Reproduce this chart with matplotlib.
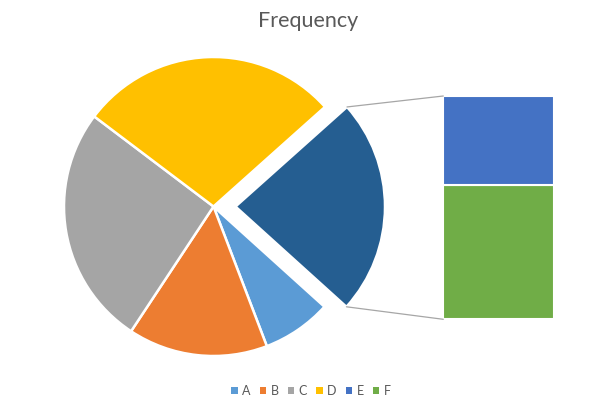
import matplotlib

matplotlib.use("Agg")
import matplotlib.pyplot as plt
from matplotlib.patches import ConnectionPatch, Patch
import numpy as np

# pie part: A-D individually, E+F pooled into "Other" and split out in the bar
pie_labels = ["A", "B", "C", "D"]
pie_values = [7.5, 15.1, 26.0, 28.1]
bar_labels = ["E", "F"]
bar_values = [9.3, 14.0]
title = "Frequency"

colors = {
  "A": "#5B9BD5",
  "B": "#ED7D31",
  "C": "#A5A5A5",
  "D": "#FFC000",
  "E": "#4472C4",
  "F": "#70AD47",
}
other_color = "#255E91"
text_color = "#595959"

W, H = 589, 404
plt.rcParams["font.family"] = ["Lato", "DejaVu Sans"]

fig = plt.figure(figsize=(W / 100, H / 100), dpi=100)
ax = fig.add_axes([0, 0, 1, 1])

values = pie_values + [sum(bar_values)]
wedge_colors = [colors[k] for k in pie_labels] + [other_color]
explode = [0, 0, 0, 0, 22]
center = (213.5, H - 206.5)
radius = 149.5

wedges, _ = ax.pie(
  values,
  colors=wedge_colors,
  explode=explode,
  center=center,
  radius=radius,
  startangle=-42.1,
  counterclock=False,
  wedgeprops=dict(edgecolor="white", linewidth=1.8),
)
ax.set_xlim(0, W)
ax.set_ylim(0, H)
ax.set_aspect("equal")
ax.axis("off")

# bar of the split-out slice
bar_box = [443.3 / W, (H - 319.3) / H, 110.4 / W, 223.3 / H]
bax = fig.add_axes(bar_box)
bottom = 0.0
for lab, val in zip(bar_labels[::-1], bar_values[::-1]):
  bax.bar(0, val, bottom=bottom, width=1.0, color=colors[lab],
          edgecolor="white", linewidth=1.5)
  bottom += val
bax.set_xlim(-0.5, 0.5)
bax.set_ylim(0, sum(bar_values))
bax.axis("off")

# connector lines from slice corners to the bar
other = wedges[-1]
cx, cy = other.center
for ang, yb in ((other.theta2, 1.0), (other.theta1, 0.0)):
  px = cx + other.r * np.cos(np.radians(ang))
  py = cy + other.r * np.sin(np.radians(ang))
  con = ConnectionPatch(
    xyA=(px, py), coordsA=ax.transData,
    xyB=(-0.5, sum(bar_values) * yb), coordsB=bax.transData,
    color="#A6A6A6", linewidth=0.9,
  )
  fig.add_artist(con)

fig.text(308 / W, 1 - 21 / H, title, ha="center", va="center",
         fontsize=15.5, color=text_color)

handles = [Patch(facecolor=colors[k], edgecolor="none")
           for k in pie_labels + bar_labels]
fig.legend(
  handles, pie_labels + bar_labels,
  loc="center", bbox_to_anchor=(311 / W, 1 - 391 / H),
  ncol=6, frameon=False, fontsize=9, labelcolor=text_color,
  handlelength=0.5, handleheight=0.5, handletextpad=0.35,
  columnspacing=0.75,
)

fig.savefig("out.png", dpi=100)
